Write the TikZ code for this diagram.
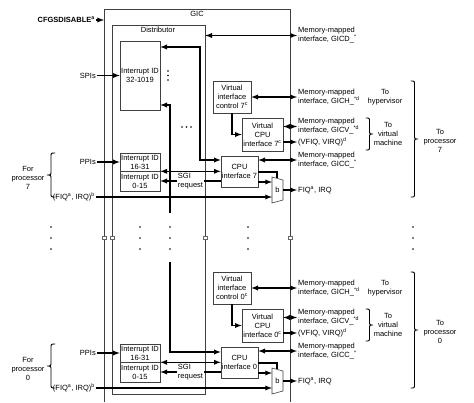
\documentclass[tikz,border=0pt]{standalone}
\usepackage{fontspec}
\setmainfont{Liberation Sans}
\usetikzlibrary{arrows,positioning}
% curly brace: x, top y, bottom y, depth (signed)
\newcommand{\Cbrace}[4]{%
  \draw[line width=0.9pt,line cap=round] (#1,#2) .. controls ({#1+0.5*#4},#2) .. ({#1+0.5*#4},{#2+4})
    -- ({#1+0.5*#4},{(#2+#3)/2-4}) .. controls ({#1+0.5*#4},{(#2+#3)/2}) .. ({#1+#4},{(#2+#3)/2})
    .. controls ({#1+0.5*#4},{(#2+#3)/2}) .. ({#1+0.5*#4},{(#2+#3)/2+4})
    -- ({#1+0.5*#4},{#3-4}) .. controls ({#1+0.5*#4},#3) .. (#1,#3);}

\begin{document}
\begin{tikzpicture}[x=1pt,y=-1pt,
  font=\fontsize{7.5}{9}\selectfont,
  box/.style={draw=black!75,line width=0.6pt,fill=white,align=center,inner sep=0pt},
  lbl/.style={align=left,inner sep=1pt,anchor=west},
  arr/.style={-latex,line width=1.3pt},
  darr/.style={latex-latex,line width=1.3pt},
  line/.style={line width=1.3pt}]
\useasboundingbox (0,0) rectangle (474,402);
% GIC and distributor
\draw[line width=0.6pt,draw=black!75] (104,402) -- (104,9) -- (290,9) -- (290,402);
\node (gic) at (197,14) {GIC};
\node (dist) [box,minimum width=93pt,minimum height=369pt] at (158.5,209.5) {};
\node (distlbl) at (158,30) {Distributor};
\node (iid32) [box,minimum width=40pt,minimum height=69pt] at (140,75.5) {Interrupt ID\\32-1019};
\coordinate (gicW) at (104,20);
%
\node (cfg) [anchor=east,inner sep=1pt,font=\fontsize{7.5}{9}\selectfont\bfseries] at (96,20) {CFGSDISABLE\textsuperscript{a}};
\node (spi) [anchor=east,inner sep=1pt] at (97,75.5) {SPIs};
\node (gicd) [lbl] at (297,35.5) {Memory-mapped\\interface, GICD\_\textsuperscript{*}};
\path[arr] (cfg) edge (gicW);
\path[arr] (spi) edge (iid32);
\path[darr] (dist.east |- gicd.west) edge (gicd.west);
% dots
\foreach \y in {71,75.5,80} \fill (168,\y) circle (0.9pt);
\foreach \x in {182,186.5,191} \fill (\x,127) circle (0.9pt);
\foreach \x in {51,140,170,248,413} \foreach \y in {227,238,249} \fill (\x,\y) circle (0.9pt);
\foreach \x in {104,112,205,290} \node[draw=black!60,fill=white,inner sep=0pt,minimum width=4.5pt,minimum height=3pt,line width=0.4pt] at (\x,238) {};

% one block per processor
\foreach \p/\dy in {7/0,0/191}{
\begin{scope}[yshift=-\dy pt]
\node (iidA\p) [box,minimum width=40pt,minimum height=18pt] at (140,162) {Interrupt ID\\16-31};
\node (iidB\p) [box,minimum width=40pt,minimum height=20pt] at (140,181) {Interrupt ID\\0-15};
\node (cpu\p) [box,minimum width=37pt,minimum height=31pt] at (239.5,171.5) {CPU\\interface \p};
\node (vic\p) [box,minimum width=38pt,minimum height=32pt] at (232,97) {Virtual\\interface\\control \p\textsuperscript{c}};
\node (vcpu\p) [box,minimum width=41pt,minimum height=33pt] at (262.5,134.5) {Virtual\\CPU\\interface \p\textsuperscript{c}};
\draw[box] (272,177) -- (283,180) -- (283,200) -- (272,203) -- cycle;
\node (mux\p) at (277.5,190) {b};
\coordinate (muxA\p) at (272,182);
\coordinate (muxB\p) at (272,197);
\coordinate (muxO\p) at (283,190);
\coordinate (muxS\p) at (277,178.4);
%
\node (ppi\p) [anchor=east,inner sep=1pt] at (97,162) {PPIs};
\node (fiqi\p) [anchor=east,inner sep=1pt] at (96,197) {(FIQ\textsuperscript{a}, IRQ)\textsuperscript{b}};
\node (for\p) [align=center] at (28,178) {For\\processor\\\p};
\node (gich\p) [lbl] at (297,97) {Memory-mapped\\interface, GICH\_\textsuperscript{*d}};
\node (gicv\p) [lbl] at (297,126.5) {Memory-mapped\\interface, GICV\_\textsuperscript{*d}};
\node (virq\p) [lbl] at (297,142) {(VFIQ, VIRQ)\textsuperscript{d}};
\node (gicc\p) [lbl] at (297,160) {Memory-mapped\\interface, GICC\_\textsuperscript{*}};
\node (fiqo\p) [lbl] at (297,190) {FIQ\textsuperscript{a}, IRQ};
\node (hyp\p) [align=center] at (385,97) {To\\hypervisor};
\node (vm\p) [align=center] at (388,134) {To\\virtual\\machine};
\node (top\p) [align=center] at (440,141) {To\\processor\\\p};
%
\draw[arr] (ppi\p) -- (iidA\p);
\draw[darr] (iidA\p.south east) -- (cpu\p.west |- iidA\p.south east);
\draw[arr] (cpu\p.west |- iidB\p.east) -- node[fill=white,align=left,inner sep=1pt] {SGI\\request} (iidB\p.east);
\draw[line] (cpu\p.east |- 0,172) -| (muxS\p);
\draw[arr] (cpu\p.east |- muxA\p) -- (muxA\p);
\draw[arr] (fiqi\p) -- (muxB\p);
\draw[arr] (muxO\p) -- (fiqo\p);
\draw[arr] (vic\p.south) |- (vcpu\p.west);
\draw[darr] (vic\p) -- (gich\p);
\draw[darr] (vcpu\p.east |- gicv\p.west) -- (gicv\p.west);
\draw[arr] (vcpu\p.east |- virq\p.west) -- (virq\p.west);
\draw[darr] (cpu\p.east |- gicc\p.west) -- (gicc\p.west);
%
\Cbrace{55}{153}{197}{-8}
\Cbrace{366}{118}{150}{7}
\Cbrace{411}{81}{197}{7}
\end{scope}
}

% distributor to the CPU interfaces
\draw[darr] (iid32.east |- 0,47) -- (200,47) -- (200,160) -- (cpu7.west |- 0,160);
\draw[line,latex-] (iid32.east |- 0,105) -- (170,105) -- (170,213);
\draw[arr] (170,262) -- (170,352) -- (cpu0.west |- 0,352);
\end{tikzpicture}
\end{document}
